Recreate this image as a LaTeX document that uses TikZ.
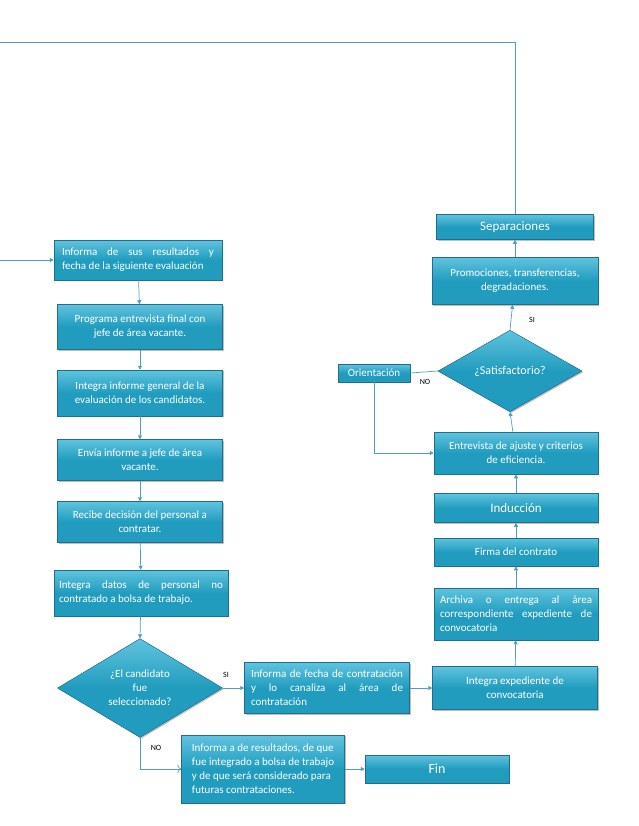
\documentclass[tikz,border=0pt]{standalone}
\usepackage{fontspec}
\setmainfont{Carlito}
\usetikzlibrary{shapes.geometric,arrows.meta,shadows}
\definecolor{boxc}{RGB}{33,156,190}
\definecolor{boxt}{RGB}{95,195,222}
\definecolor{boxe}{RGB}{30,110,140}
\definecolor{linec}{RGB}{80,158,190}
\tikzset{x=1pt,y=-1pt,
 bx/.style={draw=boxe,line width=0.5pt,top color=boxt,bottom color=boxc,middle color=boxc,text=white,font=\fontsize{11}{14}\selectfont,inner sep=3pt,align=center,drop shadow={shadow xshift=1.2pt,shadow yshift=-1.2pt,opacity=0.5}},
 ar/.style={draw=linec,line width=0.7pt,-{Triangle[length=4pt,width=4pt]}},
 ln/.style={draw=linec,line width=0.7pt},
 lb/.style={font=\fontsize{8}{9}\selectfont}}
\newcommand{\jl}[2]{\makebox[#1][s]{#2}}
\begin{document}
\begin{tikzpicture}
\useasboundingbox (0,0) rectangle (638,826);
\node[bx,minimum width=168,minimum height=40,align=left] (a1) at (138,260) {\jl{152pt}{Informa de sus resultados y}\\fecha de la siguiente evaluación};
\node[bx,minimum width=165,minimum height=45] (a2) at (140,327) {Programa entrevista final con\\jefe de área vacante.};
\node[bx,minimum width=165,minimum height=46] (a3) at (140,393) {Integra informe general de la\\evaluación de los candidatos.};
\node[bx,minimum width=165,minimum height=41] (a4) at (140,460) {Envía informe a jefe de área\\vacante.};
\node[bx,minimum width=165,minimum height=41] (a5) at (140,522) {Recibe decisión del personal a\\contratar.};
\node[bx,minimum width=174,minimum height=46,align=left] (a6) at (141,593) {\jl{164pt}{Integra datos de personal no}\\contratado a bolsa de trabajo.};
\node[bx,diamond,minimum width=165,minimum height=96,inner sep=0pt] (d1) at (140,688) {¿El candidato\\fue\\seleccionado?};
\node[bx,minimum width=165,minimum height=51,align=left] (b1) at (327,688) {\jl{152pt}{Informa de fecha de contratación}\\\jl{152pt}{y lo canaliza al área de}\\contratación};
\node[bx,minimum width=165,minimum height=43] (b2) at (515,688) {Integra expediente de\\convocatoria};
\node[bx,minimum width=164,minimum height=52,align=left] (b3) at (516,614) {\jl{152pt}{Archiva o entrega al área}\\\jl{152pt}{correspondiente expediente de}\\convocatoria};
\node[bx,minimum width=164,minimum height=28] (b4) at (516,552) {Firma del contrato};
\node[bx,minimum width=164,minimum height=29,font=\fontsize{13}{15}\selectfont] (b5) at (516,508) {Inducción};
\node[bx,minimum width=164,minimum height=42] (b6) at (516,453) {Entrevista de ajuste y criterios\\de eficiencia.};
\node[bx,diamond,minimum width=144,minimum height=70,inner sep=0pt,font=\fontsize{12}{14}\selectfont] (d2) at (510,371) {¿Satisfactorio?};
\node[bx,minimum width=72,minimum height=18,inner sep=1pt] (o1) at (374,373) {Orientación};
\node[bx,minimum width=166,minimum height=47] (b7) at (515,281) {Promociones, transferencias,\\degradaciones.};
\node[bx,minimum width=157,minimum height=25,font=\fontsize{13}{15}\selectfont] (b8) at (515,227) {Separaciones};
\node[bx,minimum width=163,minimum height=68,align=left] (c1) at (263,769) {Informa a de resultados, de que\\fue integrado a bolsa de trabajo\\y de que será considerado para\\futuras contrataciones.};
\node[bx,minimum width=144,minimum height=28,font=\fontsize{14}{16}\selectfont] (c2) at (437,769) {Fin};
\coordinate (t1) at (515,42);
\coordinate (t2) at (0,42);
\coordinate (t3) at (0,260);
\draw[ln] (b8.north) -- (t1) -- (t2);
\draw[ar] (t3) -- (a1.west);
\draw[ar] (a1) -- (a2);
\draw[ar] (a2) -- (a3);
\draw[ar] (a3) -- (a4);
\draw[ar] (a4) -- (a5);
\draw[ar] (a5) -- (a6);
\draw[ar] (a6) -- (d1.north);
\draw[ar] (d1.east) -- (b1.west);
\node[lb] at (226,675) {SI};
\draw[ar] (b1) -- (b2);
\draw[ar] (b2) -- (b3);
\draw[ar] (b3) -- (b4);
\draw[ar] (b4) -- (b5);
\draw[ar] (b5) -- (b6);
\draw[ar] (b6) -- (d2.south);
\draw[ar] (d2.north) -- (b7);
\node[lb] at (532,320) {SI};
\draw[ar] (b7) -- (b8);
\draw[ln] (d2.west) -- (o1.east);
\node[lb] at (425,382) {NO};
\draw[ar] (o1.south) |- (b6.west);
\draw[ar,-{To[length=4pt]}] (d1.south) |- (c1.west);
\node[lb] at (156,748) {NO};
\draw[ar] (c1) -- (c2);
\end{tikzpicture}
\end{document}
